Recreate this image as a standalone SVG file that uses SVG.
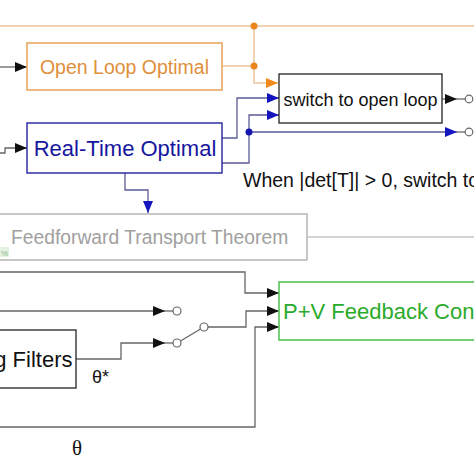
<svg xmlns="http://www.w3.org/2000/svg" width="474" height="474" viewBox="0 0 474 474">
<style>
.t{font-family:"Liberation Sans",Arial,sans-serif}
.ln{fill:none;stroke:#666;stroke-width:1.3}
.lo{fill:none;stroke:#EDC49A;stroke-width:1.5}
.lb{fill:none;stroke:#5A5A98;stroke-width:1.3}
.port{fill:#fff;stroke:#666;stroke-width:1.2}
</style>
<defs>
<marker id="ak" markerUnits="userSpaceOnUse" markerWidth="13" markerHeight="11" refX="12" refY="5" orient="auto"><path d="M0,0 L12,5 L0,10 z" fill="#111"/></marker>
<marker id="ab" markerUnits="userSpaceOnUse" markerWidth="13" markerHeight="11" refX="12" refY="5" orient="auto"><path d="M0,0 L12,5 L0,10 z" fill="#1515C0"/></marker>
<marker id="ao" markerUnits="userSpaceOnUse" markerWidth="13" markerHeight="11" refX="12" refY="5" orient="auto"><path d="M0,0 L12,5 L0,10 z" fill="#F08A1C"/></marker>
</defs>
<rect width="474" height="474" fill="#fff"/>

<g id="connectors">
<path class="lo" d="M0,26 H474"/>
<path class="lo" d="M254,26 V83 H278" marker-end="url(#ao)"/>
<path class="lo" d="M222,66 H254"/>
<circle cx="254" cy="26" r="3.5" fill="#E8871E"/>
<circle cx="254" cy="66" r="3.5" fill="#E8871E"/>
<path class="ln" d="M0,67 H27" marker-end="url(#ak)"/>
<path class="ln" d="M0,153 H5 V148 H27" marker-end="url(#ak)"/>
<path class="lb" d="M222,138 H237 V98 H279" marker-end="url(#ab)"/>
<path class="lb" d="M222,163 H249 V115 H279" marker-end="url(#ab)"/>
<path class="lb" d="M249,132 H457" marker-end="url(#ab)"/>
<circle cx="249" cy="132" r="3.5" fill="#1515B0"/>
<path class="lb" d="M125,173 V190 H148 V213" marker-end="url(#ab)"/>
<path class="ln" d="M442,99 H457" marker-end="url(#ak)"/>
<path class="ln" d="M457,99 H465"/>
<circle class="port" cx="469" cy="99" r="3.8"/>
<path class="ln" d="M457,132 H465"/>
<circle class="port" cx="469" cy="132" r="3.8"/>
<path d="M307,237 H474" fill="none" stroke="#AAA" stroke-width="1.2"/>
<path class="ln" d="M0,272 H245 V293 H279" marker-end="url(#ak)"/>
<path class="ln" d="M0,311 H165" marker-end="url(#ak)"/>
<path class="ln" d="M165,311 H173"/>
<circle class="port" cx="177" cy="311" r="4"/>
<path class="ln" d="M76,359 H121 V343 H165" marker-end="url(#ak)"/>
<path class="ln" d="M165,343 H173"/>
<circle class="port" cx="177" cy="343" r="4"/>
<path class="ln" d="M180.5,341 L200.5,329"/>
<circle class="port" cx="204" cy="327" r="4"/>
<path class="ln" d="M208,327 H246 V311 H279" marker-end="url(#ak)"/>
<path class="ln" d="M0,427 H255 V327 H279" marker-end="url(#ak)"/>
</g>

<g id="open-loop-optimal">
<rect x="27" y="43" width="195" height="47" fill="#fff" stroke="#E9A862" stroke-width="1.6"/>
<text class="t" x="124.5" y="74" font-size="19.5" fill="#E0903A" text-anchor="middle">Open Loop Optimal</text>
</g>

<g id="switch-to-open-loop">
<rect x="279" y="74" width="163" height="49" fill="#fff" stroke="#222" stroke-width="1.3"/>
<text class="t" x="360.5" y="106" font-size="18" fill="#111" text-anchor="middle">switch to open loop</text>
</g>

<g id="real-time-optimal">
<rect x="27" y="123" width="195" height="50" fill="#fff" stroke="#22229A" stroke-width="1.4"/>
<text class="t" x="125" y="156" font-size="22" fill="#16169E" text-anchor="middle">Real-Time Optimal</text>
</g>

<g id="note">
<text class="t" x="243" y="187" font-size="19.5" fill="#111">When |det[T]| &gt; 0, switch to</text>
</g>

<g id="feedforward-transport-theorem">
<rect x="-2" y="214" width="309" height="46" fill="#fff" stroke="#AAA" stroke-width="1.3"/>
<text class="t" x="11" y="244" font-size="19.3" fill="#A0A0A0">Feedforward Transport Theorem</text>
<rect x="0" y="247" width="9" height="10" fill="#E4F0E0"/>
<text class="t" x="4.5" y="256" font-size="8" fill="#8BBE8B" text-anchor="middle">%</text>
</g>

<g id="p-v-feedback">
<rect x="279" y="282" width="200" height="58" fill="#fff" stroke="#4CC04C" stroke-width="1.5"/>
<text class="t" x="283" y="319" font-size="22" fill="#2AAA2A">P+V Feedback Con</text>
</g>

<g id="filters">
<rect x="-2" y="330" width="78" height="58" fill="#fff" stroke="#333" stroke-width="1.4"/>
<text class="t" x="72.5" y="367" font-size="22" fill="#111" text-anchor="end">g Filters</text>
</g>

<g id="labels">
<text class="t" x="92" y="383" font-size="18" fill="#111">θ*</text>
<text x="72" y="455" font-size="21" fill="#111" font-family="'Liberation Serif','Times New Roman',serif">θ</text>
</g>
</svg>
